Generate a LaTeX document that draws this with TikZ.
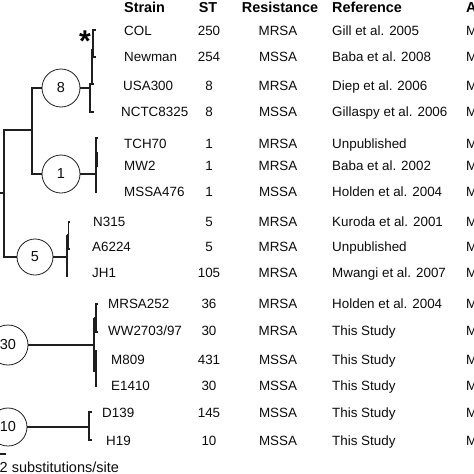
\documentclass[tikz,border=0pt]{standalone}
\usepackage{fontspec}
\setmainfont{Liberation Sans}
\begin{document}
\begin{tikzpicture}[x=1pt,y=-1pt,
  txt/.style={inner sep=0pt, font=\fontsize{13.4}{14}\selectfont, text=black!95},
  hdr/.style={inner sep=0pt, font=\fontsize{14.4}{15}\selectfont\bfseries, text=black},
  br/.style={line width=1.3pt, draw=black!88},
  thk/.style={line width=2.4pt, draw=black!88},
  circ/.style={circle, draw=black!88, line width=0.8pt, inner sep=0pt, minimum size=38pt, font=\fontsize{14.5}{15}\selectfont, text=black!95}]
\useasboundingbox (0,0) rectangle (474,474);
\fill[white] (0,0) rectangle (474,474);

% headers
\node[hdr, anchor=base west] (hStrain) at (124,12.5) {Strain};
\node[hdr, anchor=base] (hST) at (208,12.5) {ST};
\node[hdr, anchor=base] (hRes) at (280,12.5) {Resistance};
\node[hdr, anchor=base west] (hRef) at (332,12.5) {Reference};
\node[hdr, anchor=base west] (hA) at (466,12.5) {A};

% rows
\foreach \y/\s/\sx/\st/\r/\rf [count=\i] in {
31/COL/124/250/MRSA/Gill et al. 2005,
57/Newman/124/254/MSSA/Baba et al. 2008,
86/USA300/123/8/MRSA/Diep et al. 2006,
112/NCTC8325/121/8/MSSA/Gillaspy et al. 2006,
144/TCH70/124/1/MRSA/Unpublished,
166/MW2/124/1/MRSA/Baba et al. 2002,
192/MSSA476/124/1/MSSA/Holden et al. 2004,
222/N315/93/5/MRSA/Kuroda et al. 2001,
247/A6224/92/5/MRSA/Unpublished,
273/JH1/92/105/MRSA/Mwangi et al. 2007,
304/MRSA252/108/36/MRSA/Holden et al. 2004,
331/{WW2703/97}/108/30/MRSA/This Study,
360/M809/111/431/MSSA/This Study,
386/E1410/111/30/MSSA/This Study,
413/D139/102/145/MSSA/This Study,
441/H19/106/10/MSSA/This Study}
{
 \node[txt, anchor=base west] (s\i) at (\sx,\y+4.8) {\s};
 \node[txt, anchor=base] (t\i) at (209,\y+4.8) {\st};
 \node[txt, anchor=base] (r\i) at (278,\y+4.8) {\r};
 \node[txt, anchor=base west] (f\i) at (332,\y+4.8) {\rf};
 \node[txt, anchor=base west] (m\i) at (466,\y+4.8) {M};
}

% clade circles
\node[circ] (c8) at (61,88) {8};
\node[circ] (c1) at (61,174) {1};
\node[circ, minimum size=36pt] (c5) at (35,257) {5};
\node[circ, minimum size=40pt] (c30) at (8,345) {30};
\node[circ] (c10) at (8,427) {10};

% backbone
\draw[br] (-3,193) -- (4,193);
\draw[br] (c8.west) -- (32,88) -- (32,174) -- (c1.west);
\draw[br] (32,130) -- (4,130) -- (4,257) -- (c5.west);

% clade 8
\draw[br] (c8.east) -- (90,88);
\draw[br] (94,112) -- (90,112) -- (90,84) -- (92,84);
\draw[br] (94,84) -- (92,84) -- (92,50) -- (93,50);
\draw[br] (96,30) -- (93,30) -- (93,57) -- (96,57);
\draw[thk, line width=1.8pt] (92.6,33) -- (92.6,54);
\node[inner sep=0pt, font=\fontsize{30}{30}\selectfont\bfseries, anchor=base, text=black] (ast) at (85,51.5) {*};

% clade 1
\draw[br] (c1.east) -- (96,174);
\draw[br] (97.5,138) -- (96,138) -- (96,193);
\draw[thk] (96.6,152) -- (96.6,167);

% clade 5
\draw[br] (c5.east) -- (67,257);
\draw[br] (67,235) -- (67,277);
\draw[br] (67,235) -- (68.5,235);
\draw[br] (70,222) -- (68.5,222) -- (68.5,249) -- (70,249);

% clade 30
\draw[br] (c30.east) -- (94,345);
\draw[br] (94,318) -- (94,372);
\draw[br] (94,318) -- (96,318);
\draw[br] (97.5,304) -- (96,304) -- (96,332) -- (97.5,332);
\draw[br] (94,368) -- (96,368);
\draw[br] (96,350) -- (96,387);

% clade 10
\draw[br] (c10.east) -- (89,427);
\draw[br] (92,412) -- (89,412) -- (89,440) -- (92,440);

% scale
\coordinate (sa) at (0,454);
\coordinate (sb) at (6,454);
\draw[line width=1.2pt, black!88] (sa) -- (sb);
\node[txt, anchor=base west, font=\fontsize{14.5}{15}\selectfont] (scl) at (-0.5,472) {2 substitutions/site};
\end{tikzpicture}
\end{document}
